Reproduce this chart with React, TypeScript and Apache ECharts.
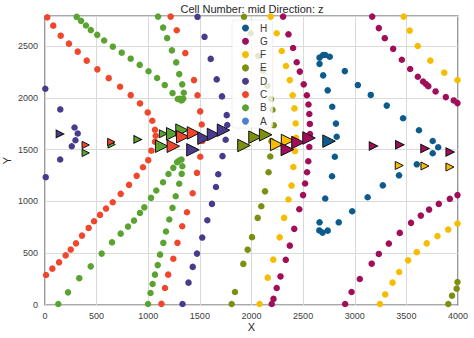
import React, { useEffect, useRef } from 'react';
import * as echarts from 'echarts';

// ---- data (X, Y) ----
const seriesOrder = ['A', 'B', 'C', 'D', 'E', 'F', 'G', 'H'];
const legendOrder = ['H', 'G', 'F', 'E', 'D', 'C', 'B', 'A'];
const xTicks = [0, 500, 1000, 1500, 2000, 2500, 3000, 3500, 4000];
const yTicks = [0, 500, 1000, 1500, 2000, 2500];

const aPoints: number[][] = [];
const bPoints = [
  [307, 2782], [349, 2743], [397, 2698], [444, 2654], [506, 2608], [573, 2553], [657, 2494], [743, 2436], [830, 2378], [917, 2318], [1003, 2257], [1086, 2192], [1160, 2123], [1235, 2046], [1286, 1989],
  [1095, 2784], [1144, 2678], [1183, 2577], [1229, 2458], [1271, 2342], [1300, 2229], [1329, 2130], [1344, 2049], [1339, 1994], [1320, 1975], [1305, 1990], [1327, 1980],
  [1322, 1405], [1300, 1395], [1280, 1379], [1243, 1324], [1196, 1265], [1143, 1185], [1078, 1105], [1027, 1034], [962, 943], [920, 889], [862, 815], [804, 757], [733, 689], [649, 605], [549, 496], [443, 373], [332, 259], [223, 122], [129, 10],
  [1330, 1340], [1324, 1266], [1300, 1171], [1266, 1050], [1235, 938], [1204, 825], [1172, 709], [1146, 600], [1114, 486], [1092, 385], [1065, 293], [1042, 203], [1022, 116], [998, 10],
];
const cPoints = [
  [22, 2777], [80, 2697], [152, 2600], [232, 2523], [317, 2446], [404, 2359], [507, 2275], [617, 2190], [727, 2107], [830, 2026], [920, 1946], [995, 1859], [1039, 1779], [1065, 1692], [1072, 1634], [1065, 1576], [1030, 1490],
  [1000, 1398], [949, 1330], [888, 1247], [814, 1160], [733, 1073], [656, 992], [591, 931], [533, 870], [475, 808], [423, 744], [358, 670], [300, 595], [249, 535], [200, 479], [136, 412], [71, 351], [10, 290],
  [1217, 2784], [1276, 2652], [1359, 2432], [1443, 2171], [1477, 2025], [1503, 1869], [1518, 1743], [1525, 1585], [1504, 1431], [1472, 1276], [1430, 1079], [1375, 895], [1329, 760], [1283, 600], [1243, 446], [1193, 293], [1162, 164], [1128, 11],
];
const dPoints = [
  [3, 2088], [148, 1888], [286, 1714], [317, 1656], [295, 1591], [259, 1533], [147, 1405], [7, 1234],
  [1477, 2782], [1545, 2589], [1605, 2376], [1663, 2178], [1714, 2014], [1760, 1833], [1765, 1738], [1750, 1595], [1719, 1437], [1678, 1262], [1656, 1139], [1617, 976], [1572, 818], [1523, 651], [1472, 496], [1431, 368], [1390, 216], [1332, 10],
];
const ePoints = [
  [1927, 2782], [1993, 2623], [2066, 2403], [2109, 2265], [2155, 2117], [2189, 1988], [2203, 1885], [2216, 1735], [2194, 1582], [2182, 1434], [2165, 1282], [2131, 1097], [2095, 953], [2060, 841], [2005, 655], [1963, 534], [1921, 397], [1840, 126], [1808, 10],
  [3995, 222], [3987, 158], [3942, 90], [3906, 10],
];
const fPoints = [
  [2186, 2784], [2244, 2623], [2293, 2452], [2334, 2307], [2371, 2171], [2399, 2025], [2416, 1898], [2428, 1753], [2432, 1615], [2421, 1485], [2405, 1332], [2388, 1153], [2358, 1019], [2316, 841], [2273, 653], [2211, 438], [2157, 264], [2078, 10],
  [3474, 2784], [3532, 2649], [3610, 2500], [3732, 2359], [3867, 2243], [3995, 2171],
  [3995, 786], [3905, 728], [3801, 665], [3697, 595], [3601, 510], [3517, 431], [3430, 319], [3366, 216], [3295, 102], [3244, 10],
];
const gPoints = [
  [2306, 2784], [2358, 2613], [2403, 2481], [2438, 2344], [2468, 2253], [2506, 2130], [2536, 2025], [2552, 1936], [2560, 1844], [2565, 1748], [2566, 1650], [2560, 1525], [2550, 1388], [2538, 1282], [2519, 1173], [2500, 1061], [2463, 924], [2414, 735], [2371, 573], [2332, 436], [2281, 276], [2244, 164], [2213, 59], [2196, 10],
  [3169, 2784], [3233, 2673], [3291, 2576], [3372, 2473], [3456, 2368], [3537, 2278], [3611, 2204], [3662, 2157], [3690, 2133], [3712, 2113], [3783, 2062], [3882, 2007], [3959, 1975], [3995, 1949],
  [2907, 10], [2969, 126], [3049, 251], [3164, 399], [3233, 493], [3330, 593], [3436, 696], [3545, 793], [3640, 863], [3720, 921], [3814, 976], [3921, 1025], [3995, 1061],
];
const hPoints = [
  [2659, 2388], [2693, 2413], [2715, 2413], [2758, 2397], [2659, 2328], [2694, 2217], [2738, 2072], [2782, 1914], [2818, 1751], [2825, 1624], [2807, 1431], [2780, 1243], [2714, 1028], [2659, 798], [2657, 720], [2688, 699], [2738, 718], [2845, 798], [2975, 905], [3125, 1040], [3272, 1155], [3429, 1252], [3601, 1358], [3755, 1465], [3808, 1523], [3755, 1583], [3622, 1687], [3468, 1803], [3310, 1925], [3155, 2028], [3030, 2123], [2904, 2258],
];

// direction markers: [X, Y, relative magnitude]
const aArrows: number[][] = [];
const bArrows = [[394, 1468, 0.3], [646, 1550, 0.3], [898, 1598, 0.35], [1146, 1653, 0.4], [1130, 1533, 1], [1237, 1653, 1], [1327, 1688, 1]];
const cArrows = [[394, 1545, 0.3], [642, 1574, 0.3], [1243, 1533, 1], [1334, 1624, 1], [1438, 1661, 1]];
const dArrows = [[145, 1651, 0.35], [1433, 1498, 1], [1540, 1610, 1], [1632, 1646, 1], [1729, 1688, 1]];
const eArrows = [[1927, 1540, 1], [2034, 1620, 1], [2137, 1643, 1]];
const fArrows = [[2244, 1550, 1], [2349, 1588, 1], [3431, 1347, 0.4], [3680, 1342, 0.4], [3922, 1332, 0.4]];
const gArrows = [[2347, 1501, 1], [2450, 1569, 1], [2557, 1612, 1], [3181, 1535, 0.45], [3436, 1547, 0.45], [3680, 1511, 0.45], [3924, 1477, 0.45]];
const hArrows = [[2751, 1582, 1]];

const pointsBy: Record<string, number[][]> = { A: aPoints, B: bPoints, C: cPoints, D: dPoints, E: ePoints, F: fPoints, G: gPoints, H: hPoints };
const arrowsBy: Record<string, number[][]> = { A: aArrows, B: bArrows, C: cArrows, D: dArrows, E: eArrows, F: fArrows, G: gArrows, H: hArrows };

const colors: Record<string, string> = {
  H: '#0c5b8c', G: '#a10d59', F: '#f6bc00', E: '#7e8e10', D: '#4a3a8c', C: '#f0462b', B: '#5aa331', A: '#4c80d4',
};

export default function App() {
  const ref = useRef<HTMLDivElement>(null);
  useEffect(() => {
    if (!ref.current) return;
    const chart = echarts.init(ref.current, null, { renderer: 'svg' });
    const font = '"Liberation Sans", Arial, sans-serif';
    const circles = seriesOrder.map((n) => ({
      name: n,
      type: 'scatter',
      data: pointsBy[n],
      symbol: 'circle',
      symbolSize: 6.5,
      itemStyle: { color: colors[n], opacity: 1 },
      z: 2,
      silent: true,
    }));
    const arrows = seriesOrder.map((n) => ({
      name: n + '-dir',
      type: 'scatter',
      data: arrowsBy[n],
      symbol: 'triangle',
      symbolRotate: -90,
      symbolSize: (v: number[]) => 5 + 7.5 * v[2],
      itemStyle: { color: colors[n], opacity: 1, borderColor: '#111', borderWidth: 1 },
      z: 3,
      silent: true,
    }));
    chart.setOption({
      animation: false,
      textStyle: { fontFamily: font },
      title: {
        text: 'Cell Number: mid Direction: z',
        left: 252,
        top: 3,
        textAlign: 'center',
        padding: 0,
        textStyle: { fontSize: 11, fontWeight: 'normal', color: '#262626', fontFamily: font },
      },
      grid: {
        left: 45, top: 16, width: 413, height: 289,
        outerBoundsMode: 'none',
        containLabel: false,
        show: true, borderColor: '#555', borderWidth: 1.2, backgroundColor: 'transparent',
      },
      legend: {
        data: legendOrder,
        orient: 'vertical',
        left: 232,
        top: 20,
        icon: 'circle',
        itemWidth: 7,
        itemHeight: 7,
        itemGap: 3.3,
        padding: [3, 5, 2, 10],
        backgroundColor: 'rgba(255,255,255,0.8)',
        borderColor: 'rgba(220,220,220,0.8)',
        borderWidth: 0.6,
        borderRadius: 3,
        selectedMode: false,
        textStyle: { fontSize: 10, lineHeight: 10, color: '#3a3a3a', fontFamily: font, padding: [0, 0, 0, 6] },
      },
      xAxis: {
        type: 'value', min: xTicks[0], max: xTicks[xTicks.length - 1], interval: 500,
        name: 'X', nameLocation: 'middle', nameGap: 16, nameMoveOverlap: false,
        nameTextStyle: { fontSize: 11, color: '#262626', fontFamily: font },
        axisLine: { show: false }, axisTick: { show: false },
        axisLabel: {
          fontSize: 9, color: '#404040', margin: 6, fontFamily: font,
          formatter: (v: number) => String(v),
        },
        splitLine: { lineStyle: { color: '#dadada', width: 1 } },
      },
      yAxis: {
        type: 'value', min: yTicks[0], max: 2790, interval: 500,
        name: 'Y', nameLocation: 'middle', nameGap: 33, nameMoveOverlap: false,
        nameTextStyle: { fontSize: 11, color: '#262626', fontFamily: font },
        axisLine: { show: false }, axisTick: { show: false },
        axisLabel: {
          fontSize: 9, color: '#404040', margin: 7, fontFamily: font, showMaxLabel: false,
          formatter: (v: number) => (yTicks.includes(v) ? String(v) : ''),
        },
        splitLine: { lineStyle: { color: '#dadada', width: 1 } },
      },
      series: [...circles, ...arrows],
    });
    return () => chart.dispose();
  }, []);
  return <div ref={ref} style={{ position: 'absolute', left: 0, top: 0, width: 474, height: 338 }} />;
}
